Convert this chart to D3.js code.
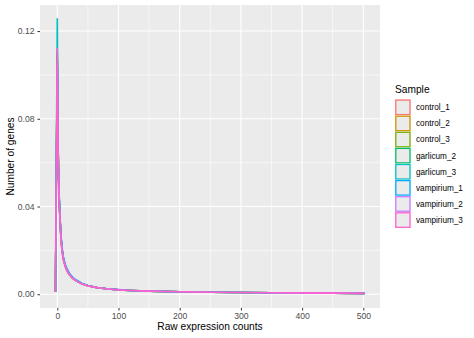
<!DOCTYPE html>
<html>
<head>
<meta charset="utf-8">
<script src="https://cdn.jsdelivr.net/npm/d3@7"></script>
<style>
  html, body { margin: 0; padding: 0; background: #fff; }
  svg { display: block; font-family: "Liberation Sans", Arial, Helvetica, sans-serif; }
</style>
</head>
<body>
<svg id="chart" width="474" height="338"></svg>
<script>
// Raw expression counts (x) and share of genes per sample (y)
const counts = [-3, 0, 1, 2, 3, 4, 6, 8, 10, 13, 16, 20, 25, 30, 40, 50, 65, 80, 100, 120, 150, 200, 250, 300, 350, 400, 450, 502];

const samples = ["control_1", "control_2", "control_3", "garlicum_2", "garlicum_3", "vampirium_1", "vampirium_2", "vampirium_3"];
const sampleColors = ["#F8766D", "#CD9600", "#7CAE00", "#00BE67", "#00BFC4", "#00A9FF", "#C77CFF", "#FF61CC"];

const control_1   = [0.001, 0.108, 0.073, 0.055, 0.044, 0.037, 0.026, 0.0198, 0.0160, 0.0128, 0.0107, 0.0089, 0.0073, 0.0063, 0.0048, 0.0039, 0.0030, 0.0025, 0.0020, 0.0017, 0.0014, 0.0011, 0.0009, 0.0008, 0.0007, 0.0006, 0.0005, 0.0004];
const control_2   = [0.001, 0.106, 0.072, 0.055, 0.044, 0.037, 0.026, 0.0199, 0.0161, 0.0129, 0.0108, 0.0090, 0.0074, 0.0063, 0.0048, 0.0039, 0.0030, 0.0025, 0.0020, 0.0017, 0.0014, 0.0011, 0.0009, 0.0008, 0.0007, 0.0006, 0.0005, 0.0004];
const control_3   = [0.001, 0.107, 0.073, 0.055, 0.044, 0.037, 0.026, 0.0198, 0.0160, 0.0128, 0.0107, 0.0089, 0.0073, 0.0062, 0.0048, 0.0039, 0.0030, 0.0025, 0.0020, 0.0017, 0.0014, 0.0011, 0.0009, 0.0008, 0.0007, 0.0006, 0.0005, 0.0004];
const garlicum_2  = [0.001, 0.110, 0.074, 0.056, 0.045, 0.037, 0.026, 0.0200, 0.0162, 0.0130, 0.0109, 0.0090, 0.0074, 0.0064, 0.0049, 0.0039, 0.0030, 0.0025, 0.0020, 0.0017, 0.0014, 0.0011, 0.0009, 0.0008, 0.0007, 0.0006, 0.0005, 0.0004];
const garlicum_3  = [0.001, 0.1256, 0.076, 0.056, 0.045, 0.037, 0.026, 0.0200, 0.0162, 0.0131, 0.0110, 0.0091, 0.0075, 0.0065, 0.0049, 0.0040, 0.0031, 0.0025, 0.0020, 0.0017, 0.0014, 0.0011, 0.0009, 0.0008, 0.0007, 0.0006, 0.0005, 0.0004];
const vampirium_1 = [0.001, 0.104, 0.072, 0.055, 0.045, 0.038, 0.027, 0.0210, 0.0170, 0.0137, 0.0115, 0.0095, 0.0078, 0.0066, 0.0050, 0.0040, 0.0031, 0.0026, 0.0021, 0.0017, 0.0014, 0.0011, 0.0009, 0.0008, 0.0007, 0.0006, 0.0005, 0.0004];
const vampirium_2 = [0.001, 0.105, 0.072, 0.055, 0.044, 0.037, 0.026, 0.0200, 0.0163, 0.0131, 0.0109, 0.0090, 0.0074, 0.0063, 0.0048, 0.0039, 0.0030, 0.0025, 0.0020, 0.0017, 0.0014, 0.0011, 0.0009, 0.0008, 0.0007, 0.0006, 0.0005, 0.0004];
const vampirium_3 = [0.001, 0.112, 0.075, 0.056, 0.045, 0.037, 0.025, 0.0190, 0.0155, 0.0125, 0.0105, 0.0088, 0.0072, 0.0062, 0.0047, 0.0038, 0.0030, 0.0025, 0.0020, 0.0017, 0.0014, 0.0011, 0.0009, 0.0008, 0.0007, 0.0006, 0.0005, 0.0004];

const seriesValues = [control_1, control_2, control_3, garlicum_2, garlicum_3, vampirium_1, vampirium_2, vampirium_3];

const xTicks = [0, 100, 200, 300, 400, 500];
const xMinor = [50, 150, 250, 350, 450];
const yTicks = [0, 0.04, 0.08, 0.12];
const yMinor = [0.02, 0.06, 0.10];

const xTitle = "Raw expression counts";
const yTitle = "Number of genes";
const legendTitle = "Sample";

// Layout of the plotting panel
const panel = { left: 40, right: 380, top: 5, bottom: 308 };

function expand(lo, hi) {
  const pad = (hi - lo) * 0.05;
  return [lo - pad, hi + pad];
}

const allY = seriesValues.flat();
const x = d3.scaleLinear()
  .domain(expand(d3.min(counts), d3.max(counts)))
  .range([panel.left, panel.right]);
const y = d3.scaleLinear()
  .domain(expand(0, d3.max(allY)))
  .range([panel.bottom, panel.top]);

const svg = d3.select("#chart");

// Panel background
svg.append("rect")
  .attr("x", panel.left).attr("y", panel.top)
  .attr("width", panel.right - panel.left)
  .attr("height", panel.bottom - panel.top)
  .attr("fill", "#EBEBEB");

// Grid lines
const grid = svg.append("g");
grid.selectAll(".xminor").data(xMinor).join("line")
  .attr("x1", d => x(d)).attr("x2", d => x(d))
  .attr("y1", panel.top).attr("y2", panel.bottom)
  .attr("stroke", "#fff").attr("stroke-width", 0.55);
grid.selectAll(".yminor").data(yMinor).join("line")
  .attr("y1", d => y(d)).attr("y2", d => y(d))
  .attr("x1", panel.left).attr("x2", panel.right)
  .attr("stroke", "#fff").attr("stroke-width", 0.55);
grid.selectAll(".xmajor").data(xTicks).join("line")
  .attr("x1", d => x(d)).attr("x2", d => x(d))
  .attr("y1", panel.top).attr("y2", panel.bottom)
  .attr("stroke", "#fff").attr("stroke-width", 1.1);
grid.selectAll(".ymajor").data(yTicks).join("line")
  .attr("y1", d => y(d)).attr("y2", d => y(d))
  .attr("x1", panel.left).attr("x2", panel.right)
  .attr("stroke", "#fff").attr("stroke-width", 1.1);

// Frequency lines, one per sample
const line = d3.line()
  .x((d, i) => x(counts[i]))
  .y(d => y(d));

svg.append("g")
  .selectAll("path")
  .data(seriesValues)
  .join("path")
  .attr("d", d => line(d))
  .attr("fill", "none")
  .attr("stroke", (d, i) => sampleColors[i])
  .attr("stroke-width", 1.6)
  .attr("stroke-linejoin", "round")
  .attr("stroke-linecap", "butt");

// Axes
const xAxis = d3.axisBottom(x)
  .tickValues(xTicks)
  .tickFormat(d3.format("d"))
  .tickSize(2.5)
  .tickPadding(2);
const yAxis = d3.axisLeft(y)
  .tickValues(yTicks)
  .tickFormat(d3.format(".2f"))
  .tickSize(2.5)
  .tickPadding(3);

const gx = svg.append("g")
  .attr("transform", `translate(0,${panel.bottom})`)
  .call(xAxis);
const gy = svg.append("g")
  .attr("transform", `translate(${panel.left},0)`)
  .call(yAxis);

[gx, gy].forEach(g => {
  g.select(".domain").remove();
  g.selectAll(".tick line").attr("stroke", "#333333").attr("stroke-width", 1);
  g.selectAll(".tick text")
    .attr("fill", "#4D4D4D")
    .style("font-size", "8.6px")
    .style("font-family", "'Liberation Sans', Arial, sans-serif");
});

// Axis titles
svg.append("text")
  .attr("x", (panel.left + panel.right) / 2)
  .attr("y", 329.5)
  .attr("text-anchor", "middle")
  .attr("fill", "#000")
  .style("font-size", "10.2px")
  .text(xTitle);

svg.append("text")
  .attr("transform", `translate(13.5,${(panel.top + panel.bottom) / 2}) rotate(-90)`)
  .attr("text-anchor", "middle")
  .attr("fill", "#000")
  .style("font-size", "10.2px")
  .text(yTitle);

// Legend
const legend = svg.append("g").attr("transform", "translate(395,0)");
legend.append("text")
  .attr("x", 0).attr("y", 93)
  .attr("fill", "#000")
  .style("font-size", "10.2px")
  .text(legendTitle);

const keyH = 16.1, keyW = 15.8, keyTop = 99.3;
const keys = legend.selectAll(".key")
  .data(samples)
  .join("g")
  .attr("transform", (d, i) => `translate(0,${keyTop + i * keyH})`);

keys.append("rect")
  .attr("x", 0).attr("y", 0)
  .attr("width", keyW).attr("height", keyH)
  .attr("fill", "#F2F2F2");
keys.append("rect")
  .attr("x", 0.8).attr("y", 0.8)
  .attr("width", keyW - 1.6).attr("height", keyH - 1.6)
  .attr("fill", "#EBEBEB")
  .attr("stroke", (d, i) => sampleColors[i])
  .attr("stroke-width", 1.3);
keys.append("text")
  .attr("x", 21).attr("y", keyH / 2)
  .attr("dy", "0.35em")
  .attr("fill", "#000")
  .style("font-size", "8.2px")
  .text(d => d);
</script>
</body>
</html>
